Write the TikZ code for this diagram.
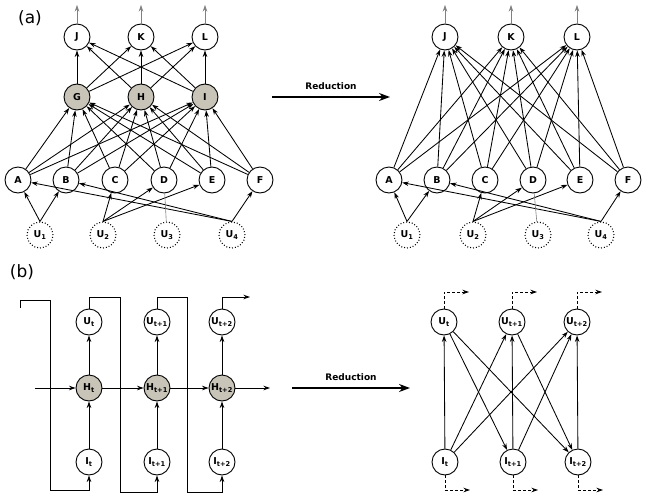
\documentclass[tikz,border=0pt]{standalone}
\usepackage{fontspec}
\setmainfont{DejaVu Sans}
\usetikzlibrary{arrows.meta}
\begin{document}
\begin{tikzpicture}[x=1pt,y=-1pt,
  nd/.style={circle,draw,line width=0.9pt,minimum size=26pt,inner sep=0pt,font=\bfseries\fontsize{9.5}{9.5}\selectfont},
  hid/.style={nd,fill={rgb,255:red,200;green,196;blue,184}},
  ud/.style={nd,dotted,line width=1.1pt},
  ar/.style={-{Stealth[length=6.5pt,width=4.5pt]},line width=0.85pt},
  red/.style={-{Stealth[length=11pt,width=8pt]},line width=1.8pt},
  lab/.style={font=\fontsize{17}{17}\selectfont}]
\useasboundingbox (0,0) rectangle (648,498);
\node[lab] (la) at (30,18) {(a)};
\node[lab] (lb) at (22,272) {(b)};
% ---------- (a) left
\foreach \n/\x in {J/77,K/141,L/205}{\node[nd] (l\n) at (\x,37) {\n};
  \coordinate (lo\n) at (\x,5); \draw[ar,gray,line width=0.6pt] (l\n) -- (lo\n);}
\foreach \n/\x in {G/77,H/141,I/205}{\node[hid] (l\n) at (\x,97) {\n};}
\foreach \n/\x in {A/18,B/66,C/115,D/164,E/212,F/260}{\node[nd] (l\n) at (\x,180) {\n};}
\node[ud] (lU1) at (40,235) {U\textsubscript{1}};
\node[ud] (lU2) at (103,235) {U\textsubscript{2}};
\node[ud] (lU3) at (167,235) {U\textsubscript{3}};
\node[ud] (lU4) at (232,235) {U\textsubscript{4}};
\foreach \s in {G,H,I}{\foreach \t in {J,K,L}{\draw[ar] (l\s) -- (l\t);}}
\foreach \s in {A,B,C,D,E,F}{\foreach \t in {G,H,I}{\draw[ar] (l\s) -- (l\t);}}
\foreach \s/\t in {U1/A,U1/B,U2/C,U2/D,U2/E,U4/A,U4/B,U4/F}{\draw[ar] (l\s.north) -- (l\t);}
\draw[gray,line width=0.6pt] (lU3) -- (lD);
% reduction
\coordinate (ra1) at (272,97); \coordinate (ra2) at (390,97);
\draw[red] (ra1) -- (ra2) node[midway,above=3pt,font=\bfseries\fontsize{9}{9}\selectfont] {Reduction};
% ---------- (a) right
\foreach \n/\x in {J/445,K/511,L/577}{\node[nd] (r\n) at (\x,37) {\n};
  \coordinate (ro\n) at (\x,5); \draw[ar,gray,line width=0.6pt] (r\n) -- (ro\n);}
\foreach \n/\x in {A/389,B/437,C/485,D/533,E/580,F/628}{\node[nd] (r\n) at (\x,180) {\n};}
\node[ud] (rU1) at (407,235) {U\textsubscript{1}};
\node[ud] (rU2) at (473,235) {U\textsubscript{2}};
\node[ud] (rU3) at (538,235) {U\textsubscript{3}};
\node[ud] (rU4) at (601,235) {U\textsubscript{4}};
\foreach \s in {A,B,C,D,E,F}{\foreach \t in {J,K,L}{\draw[ar] (r\s) -- (r\t);}}
\foreach \s/\t in {U1/A,U1/B,U2/C,U2/D,U2/E,U4/A,U4/B,U4/F}{\draw[ar] (r\s.north) -- (r\t);}
\draw[gray,line width=0.6pt] (rU3) -- (rD);
% ---------- (b) left
\foreach \i/\x/\s in {0/89/t,1/157/t+1,2/222/t+2}{
  \node[nd] (bU\i) at (\x,322) {U\textsubscript{\s}};
  \node[hid] (bH\i) at (\x,388) {H\textsubscript{\s}};
  \node[nd] (bI\i) at (\x,462) {I\textsubscript{\s}};
  \draw[ar] (bH\i) -- (bU\i);
  \draw[ar] (bI\i) -- (bH\i);}
\coordinate (hin) at (35,388); \coordinate (hout) at (270,388);
\draw[ar] (hin) -- (bH0); \draw[ar] (bH0) -- (bH1); \draw[ar] (bH1) -- (bH2); \draw[ar] (bH2) -- (hout);
\coordinate (fs) at (20,308);
\draw[ar] (fs) |- (50,300) |- (89,490) -- (bI0);
\draw[ar] (bU0) |- (120,297) |- (157,492) -- (bI1);
\draw[ar] (bU1) |- (187,297) |- (222,492) -- (bI2);
\coordinate (uo) at (250,297);
\draw[ar] (bU2) |- (uo);
% reduction b
\coordinate (rb1) at (292,388); \coordinate (rb2) at (410,388);
\draw[red] (rb1) -- (rb2) node[midway,above=3pt,font=\bfseries\fontsize{9}{9}\selectfont] {Reduction};
% ---------- (b) right
\foreach \i/\x/\s in {0/444/t,1/512/t+1,2/577/t+2}{
  \node[nd] (cU\i) at (\x,322) {U\textsubscript{\s}};
  \node[nd] (cI\i) at (\x+1,462) {I\textsubscript{\s}};
  \coordinate (cUo\i) at (\x+25,292);
  \coordinate (cIo\i) at (\x+26,490);
  \draw[ar,densely dashed] (cU\i) |- (cUo\i);
  \draw[ar,densely dashed] (cI\i) |- (cIo\i);}
\foreach \a/\b in {0/0,0/1,0/2,1/1,1/2,2/2}{\draw[ar] (cI\a) -- (cU\b);}
\foreach \a/\b in {0/1,0/2,1/2}{\draw[ar] (cU\a) -- (cI\b);}
\end{tikzpicture}
\end{document}
